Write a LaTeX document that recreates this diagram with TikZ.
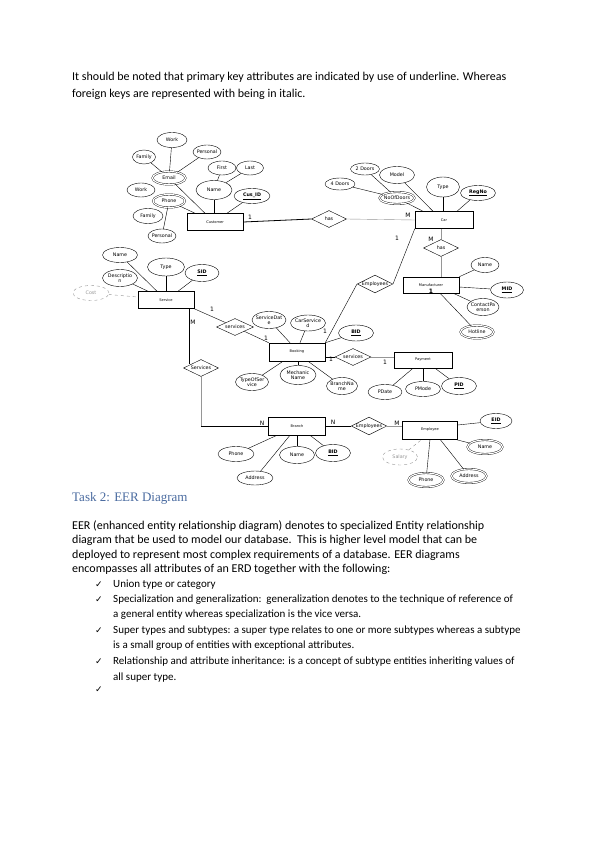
\documentclass[tikz,border=0pt]{standalone}
\usepackage{fontspec}
\setmainfont{Carlito}
\newfontfamily\djsansfont{DejaVu Sans}
\newfontfamily\ttlserif{Liberation Serif}
\usetikzlibrary{shapes.geometric}
\definecolor{ttlblue}{RGB}{74,107,160}
\definecolor{lgray}{RGB}{150,150,150}
\begin{document}
\begin{tikzpicture}[x=1pt,y=-1pt,
 ent/.style={draw, rectangle, inner sep=0pt, minimum width=56pt, minimum height=17pt, font=\djsansfont\fontsize{3.6}{4}\selectfont, line width=0.5pt},
 attr/.style={draw, ellipse, inner xsep=-3pt, inner ysep=-1pt, font=\djsansfont\fontsize{4.8}{5.2}\selectfont, align=center, line width=0.4pt},
 mv/.style={attr, double, double distance=1.2pt, line width=0.35pt},
 der/.style={attr, dashed, draw=lgray, text=lgray},
 sz/.style 2 args={minimum width=#1pt, minimum height=#2pt},
 rel/.style={draw, diamond, aspect=2, inner sep=0pt, minimum width=35pt, minimum height=17pt, font=\djsansfont\fontsize{4.8}{5.2}\selectfont, line width=0.4pt},
 ln/.style={line width=0.4pt},
 gln/.style={line width=0.4pt, draw=lgray},
 bln/.style={line width=0.8pt},
 card/.style={font=\djsansfont\fontsize{6}{6}\selectfont, inner sep=0pt},
 body/.style={anchor=base west, inner sep=0pt, font=\fontsize{12}{14}\selectfont},
 bul/.style={anchor=base west, inner sep=0pt, font=\fontsize{11}{13}\selectfont},
 chk/.style={anchor=base west, inner sep=0pt, font=\djsansfont\fontsize{9}{10}\selectfont}]
\fill[white] (0,0) rectangle (596,842);
\useasboundingbox (0,0) rectangle (596,842);

% ---------- text ----------
\node[body] (t1) at (72,81) {It should be noted that primary key attributes are indicated by use of underline. Whereas};
\node[body] (t2) at (72,98) {foreign keys are represented with being in italic.};
\node[anchor=base west, inner sep=0pt, font=\ttlserif\fontsize{13}{15}\selectfont, text=ttlblue] (title) at (72,501) {Task 2: EER Diagram};
\node[body] (p1) at (72,529) {EER (enhanced entity relationship diagram) denotes to specialized Entity relationship};
\node[body] (p2) at (72,543) {diagram that be used to model our database.\ \ This is higher level model that can be};
\node[body] (p3) at (72,558) {deployed to represent most complex requirements of a database. EER diagrams};
\node[body] (p4) at (72,572) {encompasses all attributes of an ERD together with the following:};
\node[chk] (c1) at (95,587) {✓};
\node[bul] (b1) at (113,587) {Union type or category};
\node[chk] (c2) at (95,602) {✓};
\node[bul] (b2) at (113,602) {Specialization and generalization:\ \ generalization denotes to the technique of reference of};
\node[bul] (b2b) at (113,617) {a general entity whereas specialization is the vice versa.};
\node[chk] (c3) at (95,633) {✓};
\node[bul] (b3) at (113,633) {Super types and subtypes: a super type relates to one or more subtypes whereas a subtype};
\node[bul] (b3b) at (113,648) {is a small group of entities with exceptional attributes.};
\node[chk] (c4) at (95,664) {✓};
\node[bul] (b4) at (113,664) {Relationship and attribute inheritance: is a concept of subtype entities inheriting values of};
\node[bul] (b4b) at (113,680) {all super type.};
\node[chk] (c5) at (95,692) {✓};

% ---------- entities ----------
\node[ent] (cust) at (215,222) {Customer};
\node[ent, minimum width=58pt] (car) at (444,220) {Car};
\node[ent] (serv) at (166,300) {Service};
\node[ent, minimum height=18pt] (book) at (297,352) {Booking};
\node[ent, minimum height=16pt] (manu) at (431,285) {Manufacturer};
\node[ent, minimum width=58pt, minimum height=16pt] (pay) at (423,360) {Payment};
\node[ent, minimum width=57pt, minimum height=18pt] (branch) at (297,426) {Branch};
\node[ent, minimum width=55pt, minimum height=18pt] (empl) at (430,430) {Employee};

% ---------- relationships ----------
\node[rel] (has1) at (329,219) {has};
\node[rel] (has2) at (441,248) {has};
\node[rel, minimum width=34pt] (emp1) at (375,284) {Employees};
\node[rel, minimum width=37pt] (srv1) at (235,327) {services};
\node[rel, minimum width=36pt] (srv2) at (353,357) {services};
\node[rel] (srv3) at (201,368) {Services};
\node[rel] (emp2) at (369,426) {Employees};

% ---------- customer attributes ----------
\node[attr, sz={30}{15}] (cwork1) at (172,140) {Work};
\node[attr, sz={23}{14}] (cfam1) at (144,157) {Family};
\node[attr, sz={28}{14}] (cpers1) at (207,152) {Personal};
\node[mv, sz={33}{13}] (cemail) at (169,178) {Email};
\node[attr, sz={28}{14}] (cfirst) at (222,168) {First};
\node[attr, sz={27}{14}] (clast) at (250,168) {Last};
\node[attr, sz={36}{19}] (cname) at (214,190) {Name};
\node[attr, sz={36}{15}] (cid) at (252,196) {\underline{\textbf{Cus\_ID}}};
\node[attr, sz={28}{14}] (cwork2) at (141,190) {Work};
\node[mv, sz={32}{13}] (cphone) at (169,201) {Phone};
\node[attr, sz={30}{15}] (cfam2) at (148,216) {Family};
\node[attr, sz={28}{14}] (cpers2) at (162,236) {Personal};
\draw[ln] (cwork1) -- (cemail);
\draw[ln] (cfam1) -- (cemail);
\draw[ln] (cpers1) -- (cemail);
\draw[ln] (cemail) -- ([xshift=-10pt]cust.north);
\draw[ln] (cphone) -- ([xshift=-20pt]cust.north);
\draw[ln] (cphone) -- (cpers2);
\draw[ln] (cfirst) -- (cname);
\draw[ln] (clast) -- (cname);
\draw[ln] (cname) -- (cname |- cust.north);
\draw[ln] (cid) -- ([xshift=12pt]cust.north);

% ---------- car attributes ----------
\node[attr, sz={29}{12}] (c2d) at (365,169) {2 Doors};
\node[attr, sz={30}{12}] (c4d) at (340,184) {4 Doors};
\node[attr, sz={35}{17}] (cmodel) at (397,175) {Model};
\node[mv, sz={35}{12}] (cdoors) at (397,198) {NoOfDoors};
\node[attr, sz={33}{20}] (ctype) at (443,187) {Type};
\node[attr, sz={35}{15}] (creg) at (478,193) {\underline{\textbf{RegNo}}};
\draw[ln] (c2d) -- (cdoors);
\draw[ln] (c4d) -- (cdoors);
\draw[ln] (cmodel) -- ([xshift=-11pt]car.north);
\draw[ln] (cdoors) -- ([xshift=-21pt]car.north);
\draw[bln] (ctype) -- (ctype |- car.north);
\draw[ln] (creg) -- ([xshift=13pt]car.north);

% ---------- service attributes ----------
\node[attr, sz={35}{15}] (sname) at (120,255) {Name};
\node[attr, sz={35}{17}] (sdesc) at (120,278) {Descriptio\\n};
\node[attr, sz={37}{18}] (stype) at (166,267) {Type};
\node[attr, sz={34}{17}] (sid) at (202,273) {\underline{\textbf{SID}}};
\node[der, sz={36}{15}] (scost) at (91,293) {Cost};
\draw[ln] (sname) -- ([xshift=-9pt]serv.north);
\draw[ln] (sdesc) -- ([xshift=-18pt]serv.north);
\draw[ln] (stype) -- (serv.north);
\draw[ln] (sid) -- ([xshift=12pt]serv.north);
\draw[gln, dashed] (scost) -- ([yshift=3pt]serv.west);

% ---------- booking attributes ----------
\node[attr, sz={34}{17}] (bdate) at (269,320) {ServiceDat\\e};
\node[attr, sz={35}{16}] (bcar) at (308,323) {CarService\\d};
\node[attr, sz={35}{16}] (bid) at (356,333) {\underline{\textbf{BID}}};
\node[attr, sz={33}{17}] (btype) at (252,382) {TypeOfSer\\vice};
\node[attr, sz={36}{19}] (bmech) at (298,375) {Mechanic\\Name};
\node[attr, sz={31}{17}] (bbr) at (342,386) {BranchNa\\me};
\draw[ln] (bdate) -- ([xshift=-7pt]book.north);
\draw[ln] (bcar) -- ([xshift=3pt]book.north);
\draw[ln] (bid) -- (book.north east);
\draw[ln] (btype) -- ([xshift=-14pt]book.south);
\draw[ln] (bmech) -- (bmech |- book.south);
\draw[ln] (bbr) -- ([xshift=11pt]book.south);

% ---------- manufacturer attributes ----------
\node[attr, sz={28}{15}] (mname) at (485,265) {Name};
\node[attr, sz={33}{16}] (mid) at (507,290) {\underline{\textbf{MID}}};
\node[attr, sz={32}{17}] (mcp) at (483,307) {ContactPa\\erson};
\node[mv, sz={33}{13}] (mhot) at (477,332) {Hotline};
\draw[ln] (mname) -- (manu.north east);
\draw[ln] (mid) -- ([yshift=-2pt]manu.east);
\draw[ln] (mcp) -- ([xshift=-6pt]manu.south east);
\draw[ln] (mhot) -- ([xshift=9pt]manu.south);

% ---------- payment attributes ----------
\node[attr, sz={34}{15}] (pdate) at (385,392) {PDate};
\node[attr, sz={35}{15}] (pmode) at (423,389) {PMode};
\node[attr, sz={35}{17}] (pid) at (459,386) {\underline{\textbf{PID}}};
\draw[ln] (pdate) -- ([xshift=-10pt]pay.south);
\draw[ln] (pmode) -- (pay.south);
\draw[ln] (pid) -- ([xshift=12pt]pay.south);

% ---------- branch attributes ----------
\node[attr, sz={36}{15}] (brphone) at (236,454) {Phone};
\node[attr, sz={36}{14}] (braddr) at (255,478) {Address};
\node[attr, sz={35}{17}] (brname) at (297,455) {Name};
\node[attr, sz={35}{17}] (brid) at (333,453) {\underline{\textbf{BID}}};
\draw[ln] (brphone) -- ([xshift=-20pt]branch.south);
\draw[ln] (braddr) -- ([xshift=-7pt]branch.south);
\draw[ln] (brname) -- (brname |- branch.south);
\draw[ln] (brid) -- ([xshift=13pt]branch.south);

% ---------- employee attributes ----------
\node[attr, sz={32}{15}] (eid) at (496,421) {\underline{\textbf{EID}}};
\node[mv, sz={35}{14}] (ename) at (485,447) {Name};
\node[der, sz={35}{16}] (esal) at (400,457) {Salary};
\node[mv, sz={35}{14}] (ephone) at (426,480) {Phone};
\node[mv, sz={35}{14}] (eaddr) at (469,476) {Address};
\draw[ln] (eid) -- ([yshift=5pt]empl.east);
\draw[ln] (ename) -- ([xshift=-3pt]empl.south east);
\draw[gln, dashed] (esal) -- ([xshift=-8pt]empl.south);
\draw[ln] (ephone) -- (empl.south);
\draw[ln] (eaddr) -- ([xshift=10pt]empl.south);

% ---------- relationship connectors ----------
\draw[bln] (cust.east) -- (has1.west);
\draw[gln] (has1.east) -- (car.west);
\draw[gln] (has2.north |- car.south) -- (has2.north);
\draw[gln] (has2.south) -- (has2.south |- manu.north);
\draw[ln] (car.south west) -- (emp1.east);
\draw[ln] (emp1.west) -- (book.north east);
\draw[ln] (serv.south east) -- (srv1.north west);
\draw[ln] (srv1.south east) -- (book.north west);
\draw[ln] (book.east |- srv2.west) -- (srv2.west);
\draw[gln] (srv2.east) -- (pay.west |- srv2.east);
\coordinate (sm) at ([xshift=23pt]serv.south);
\draw[bln] (sm) -- (sm |- srv3.north west);
\coordinate (bc) at (srv3.south |- branch.west);
\draw[gln] (srv3.south) -- (bc);
\draw[bln] (bc) -- (branch.west);
\draw[bln] (branch.east) -- (emp2.west);
\draw[gln] (emp2.east) -- (empl.west |- emp2.east);

% ---------- cardinalities ----------
\node[card] (k1) at (250,217) {1};
\node[card] (k2) at (408,215) {M};
\node[card] (k3) at (397,238) {1};
\node[card] (k4) at (431,239) {M};
\node[card] (k5) at (431,291) {\textbf{1}};
\node[card] (k6) at (325,331) {1};
\node[card] (k7) at (212,309) {1};
\node[card] (k8) at (193,322) {M};
\node[card] (k9) at (266,338) {1};
\node[card] (k10) at (331,359) {1};
\node[card] (k11) at (385,362) {1};
\node[card] (k12) at (262,423) {N};
\node[card] (k13) at (333,422) {N};
\node[card] (k14) at (397,423) {M};
\end{tikzpicture}
\end{document}
